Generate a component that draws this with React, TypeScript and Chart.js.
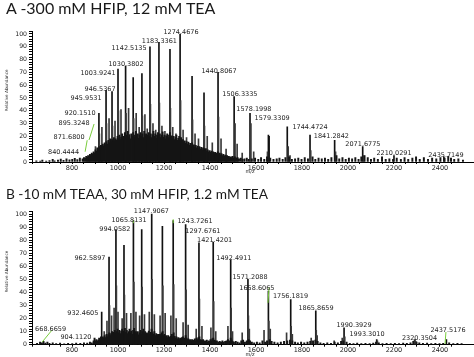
import React, { useEffect, useRef } from 'react';
import { Chart, registerables } from 'chart.js';
Chart.register(...registerables);

// ---------- axis ranges ----------
const xMin = 626;
const xMax = 2548;
const yMax = 102;
const xLabelTicks = [800, 1000, 1200, 1400, 1600, 1800, 2000, 2200, 2400];
const yLabelTicks = [0, 10, 20, 30, 40, 50, 60, 70, 80, 90, 100];

// ---------- panel A: 300 mM HFIP, 12 mM TEA ----------
const titleA = 'A -300 mM HFIP, 12 mM TEA';
const majorA: [number, number][] = [
  [917, 38], [948, 56], [974, 55], [1000, 72.5], [1033, 75], [1066, 66], [1104, 69],
  [1139, 90], [1178, 93.5], [1226, 88], [1270, 100], [1322, 67], [1374, 54], [1435, 70],
  [1505, 51], [1574, 38], [1654, 21], [1657, 20], [1736, 27.5], [1835, 21], [1942, 17],
  [2064, 12], [2200, 5], [2417, 4],
];
const satelliteA: [number, number][] = [
  [902, 12], [919, 22], [930, 27], [950, 30], [961, 34], [976, 28], [987, 32], [1002, 40],
  [1013, 41], [1035, 38], [1046, 42], [1068, 34], [1079, 38], [1092, 27], [1106, 36],
  [1117, 37], [1127, 26], [1141, 45], [1152, 30], [1164, 25], [1180, 46], [1191, 28],
  [1204, 24], [1228, 42], [1238, 27], [1252, 22], [1272, 48], [1283, 25], [1298, 19],
  [1324, 33], [1335, 22], [1350, 18], [1376, 28], [1388, 20], [1410, 15], [1437, 35],
  [1448, 18], [1470, 10], [1509, 30], [1518, 14], [1540, 7], [1578, 30], [1590, 8],
  [1650, 8], [1740, 12], [1748, 5], [1838, 9], [1946, 8], [2068, 5],
];
const noiseA: [number, number][] = [
  [645, 1], [662, 0.8], [671, 1.5], [688, 0.7], [702, 1.2], [716, 2], [724, 1], [739, 1.5],
  [751, 2.2], [763, 1.3], [776, 2.5], [789, 1.6], [801, 2], [812, 2.8], [823, 1.8], [834, 3],
  [846, 2.4], [852, 3.5], [858, 3], [862, 4.5], [866, 3.6], [870, 5], [874, 4.2], [878, 6],
  [882, 5], [886, 7], [890, 6.2], [894, 8], [898, 7], [902, 9.5], [906, 8.4], [910, 11],
  [914, 10], [918, 12], [922, 10.5], [926, 13], [930, 11.5], [934, 14], [938, 12.6], [942, 15],
  [946, 13.5], [950, 16], [954, 14], [958, 17], [962, 15], [966, 18], [970, 16], [974, 17.5],
  [978, 15.5], [982, 19], [986, 16.5], [990, 18], [994, 17], [998, 20], [1002, 18], [1006, 21],
  [1010, 17.5], [1014, 19.5], [1018, 22], [1022, 18.5], [1026, 20], [1030, 23], [1034, 19],
  [1038, 21], [1042, 24], [1046, 19.5], [1050, 21.5], [1054, 18], [1058, 22], [1062, 20],
  [1066, 23], [1070, 19], [1074, 21], [1078, 24], [1082, 20], [1086, 22], [1090, 18.5],
  [1094, 21], [1098, 23], [1102, 20], [1106, 22], [1110, 19], [1114, 24], [1118, 20.5],
  [1122, 22], [1126, 19], [1130, 21], [1134, 23], [1138, 20], [1142, 22], [1146, 19],
  [1150, 21.5], [1154, 24], [1158, 20], [1162, 22], [1166, 18.5], [1170, 21], [1174, 23],
  [1178, 20], [1182, 22], [1186, 19], [1190, 21], [1194, 23.5], [1198, 19.5], [1202, 21],
  [1206, 18], [1210, 20.5], [1214, 22], [1218, 19], [1222, 21], [1226, 23], [1230, 19],
  [1234, 20.5], [1238, 18], [1242, 20], [1246, 17.5], [1250, 19], [1254, 21], [1258, 17],
  [1262, 18.5], [1266, 20], [1270, 17], [1274, 19], [1278, 16], [1282, 17.5], [1286, 15],
  [1290, 16.5], [1294, 14.5], [1298, 16], [1302, 14], [1306, 15.5], [1310, 13], [1314, 14.5],
  [1318, 12.5], [1322, 15], [1326, 12], [1330, 13.5], [1334, 11.5], [1338, 13], [1342, 11],
  [1346, 12.5], [1350, 10.5], [1354, 12], [1358, 10], [1362, 11.5], [1366, 9.5], [1370, 11],
  [1374, 10.5], [1378, 9], [1382, 10.5], [1386, 8.5], [1390, 9.5], [1394, 8], [1398, 9],
  [1402, 7.5], [1406, 8.5], [1410, 7], [1414, 8], [1418, 6.5], [1422, 7.5], [1426, 6],
  [1430, 7], [1434, 8], [1438, 6], [1442, 7], [1446, 5.5], [1450, 6.5], [1454, 5], [1458, 6],
  [1462, 4.5], [1466, 5.5], [1470, 4], [1474, 5], [1478, 4], [1482, 4.5], [1486, 3.5],
  [1490, 4], [1494, 3.5], [1498, 4.5], [1502, 3], [1508, 4], [1514, 3], [1520, 3.5],
  [1526, 2.5], [1534, 3], [1542, 2], [1550, 2.5], [1560, 3], [1568, 2], [1582, 2.5],
  [1596, 3], [1610, 2], [1622, 3.5], [1636, 2], [1648, 4], [1662, 3], [1676, 2], [1690, 2.5],
  [1702, 3], [1716, 2], [1728, 3.5], [1744, 4], [1756, 2], [1770, 2.5], [1784, 3], [1798, 2],
  [1812, 3.5], [1826, 2.5], [1846, 4], [1858, 2], [1872, 3], [1886, 2.5], [1900, 3], [1914, 2],
  [1928, 3.5], [1950, 5], [1962, 2.5], [1976, 3.5], [1990, 2], [2004, 3], [2018, 2.5],
  [2032, 3.5], [2046, 2], [2058, 4], [2072, 5], [2086, 3.5], [2100, 2], [2114, 3], [2130, 2],
  [2148, 4], [2164, 2], [2180, 2.5], [2196, 2], [2212, 3], [2230, 2], [2246, 3.5], [2262, 2],
  [2280, 3], [2296, 4], [2312, 2], [2330, 3.5], [2348, 2], [2366, 3], [2384, 2.5], [2402, 3.5],
  [2420, 3], [2436, 4.5], [2448, 3], [2462, 2], [2480, 2.5], [2500, 1.5],
];
const peakTextA = [
  '1274.4676', '1183.3361', '1142.5135', '1030.3802', '1003.9241', '946.5367', '945.9531',
  '920.1510', '895.3248', '871.6800', '840.4444', '1440.8067', '1506.3335', '1578.1998',
  '1579.3309', '1744.4724', '1841.2842', '2071.6775', '2210.0291', '2435.7149',
];
const peakTextMzA = [
  1274, 1180, 1048, 1035, 913, 922, 861, 835, 809, 787, 763, 1439, 1530, 1591, 1670, 1835,
  1928, 2065, 2200, 2426,
];
const peakTextIntA = [
  101.6, 94.5, 89, 76.6, 69.5, 57, 50, 38.3, 30.5, 19.5, 7.8, 71, 53, 41.4, 34.4, 27.3, 20.3,
  14, 7, 5.5,
];
const leaderA: [number, number, number, number][] = [
  [896, 29.7, 874, 17.2],
  [866, 17, 857, 8],
];

// ---------- panel B: 10 mM TEAA, 30 mM HFIP, 1.2 mM TEA ----------
const titleB = 'B -10 mM TEAA, 30 mM HFIP, 1.2 mM TEA';
const majorB: [number, number][] = [
  [929, 25], [961, 67], [991, 88], [1026, 76], [1067, 95], [1103, 88], [1146.5, 100],
  [1193, 90.5], [1240, 95], [1294, 92], [1352, 78], [1414, 78.5], [1490, 65], [1565, 50],
  [1654, 41], [1751, 34.5], [1860, 26], [1983, 13], [2125, 4], [2291, 4], [2428, 4],
];
const satelliteB: [number, number][] = [
  [940, 10], [952, 18], [963, 30], [972, 22], [983, 28], [993, 45], [1000, 25], [1018, 20],
  [1028, 38], [1037, 24], [1056, 24], [1069, 48], [1078, 25], [1094, 22], [1105, 44],
  [1115, 23], [1136, 25], [1148, 50], [1158, 23], [1183, 22], [1195, 45], [1205, 24],
  [1230, 22], [1242, 46], [1253, 20], [1283, 17], [1296, 42], [1305, 15], [1340, 12],
  [1354, 35], [1365, 14], [1404, 13], [1416, 33], [1425, 10], [1478, 14], [1492, 28],
  [1498, 10], [1540, 9], [1567, 22], [1571, 12], [1635, 11], [1656, 18], [1662, 12],
  [1733, 9], [1753, 14], [1758, 8], [1840, 5], [1862, 11], [1866, 7], [1940, 3], [1975, 5],
  [1986, 6], [2128, 3], [2288, 3], [2295, 2.5],
];
const noiseB: [number, number][] = [
  [648, 1], [661, 2], [669, 1.5], [676, 2.5], [684, 1.2], [693, 2], [702, 1], [716, 1.5],
  [731, 0.8], [748, 1.2], [766, 0.7], [783, 1], [801, 0.8], [818, 1.2], [836, 1], [852, 1.5],
  [866, 1.2], [878, 2], [886, 1.5], [894, 3], [898, 5], [902, 3], [906, 4], [910, 2.5],
  [914, 3.5], [918, 5], [922, 4], [926, 6], [930, 4.5], [934, 6], [938, 5], [942, 7],
  [946, 5.5], [950, 8], [954, 6], [958, 7.5], [962, 9], [966, 7], [970, 8.5], [974, 10],
  [978, 8], [982, 9.5], [986, 11], [990, 8.5], [994, 10], [998, 12], [1002, 9], [1006, 11],
  [1010, 8.5], [1014, 10.5], [1018, 12], [1022, 9], [1026, 10.5], [1030, 12.5], [1034, 9.5],
  [1038, 11], [1042, 8.5], [1046, 10], [1050, 12], [1054, 9], [1058, 10.5], [1062, 8],
  [1066, 11], [1070, 12.5], [1074, 9], [1078, 10], [1082, 8.5], [1086, 10], [1090, 7.5],
  [1094, 9], [1098, 11], [1102, 8], [1106, 10], [1110, 12], [1114, 8.5], [1118, 10],
  [1122, 7.5], [1126, 9], [1130, 8], [1134, 10.5], [1138, 8], [1142, 9.5], [1146, 12],
  [1150, 9], [1154, 8], [1158, 10], [1162, 7], [1166, 8.5], [1170, 7], [1174, 8], [1178, 6.5],
  [1182, 8], [1186, 7], [1190, 9], [1194, 10], [1198, 7], [1202, 8], [1206, 6], [1210, 7],
  [1214, 5.5], [1218, 7], [1222, 6], [1226, 5], [1230, 6.5], [1234, 8], [1238, 6], [1242, 9],
  [1246, 6.5], [1250, 5], [1254, 6], [1258, 4.5], [1262, 5.5], [1266, 4], [1270, 5], [1274, 4],
  [1278, 5.5], [1282, 6], [1286, 4.5], [1290, 5], [1294, 7], [1298, 5], [1302, 4], [1306, 4.5],
  [1310, 3.5], [1314, 4], [1318, 3], [1322, 4], [1326, 3], [1330, 3.5], [1334, 4.5], [1338, 3],
  [1342, 5], [1346, 4], [1350, 5.5], [1354, 6], [1358, 4], [1362, 3.5], [1366, 3], [1370, 4],
  [1374, 2.5], [1378, 3], [1382, 2.5], [1386, 3.5], [1390, 2], [1394, 3], [1398, 2.5],
  [1402, 4], [1406, 3], [1410, 4.5], [1414, 5], [1418, 3.5], [1422, 3], [1426, 2.5], [1430, 3],
  [1436, 2], [1442, 2.5], [1448, 2], [1454, 3], [1460, 2], [1466, 2.5], [1472, 3], [1478, 4],
  [1484, 3], [1490, 5], [1494, 3.5], [1498, 2.5], [1504, 2], [1512, 2.5], [1520, 2],
  [1528, 1.5], [1536, 3], [1544, 3.5], [1552, 2], [1560, 3], [1568, 4], [1574, 3], [1582, 2],
  [1592, 1.5], [1604, 2], [1616, 1.5], [1628, 3], [1640, 2], [1648, 3], [1660, 4], [1668, 2.5],
  [1680, 2], [1694, 1.5], [1708, 2], [1722, 2.5], [1736, 3], [1748, 3.5], [1758, 3], [1770, 2],
  [1782, 1.5], [1796, 2], [1810, 1.5], [1824, 2], [1836, 2.5], [1848, 3], [1858, 3.5],
  [1868, 2.5], [1880, 1.5], [1894, 1], [1910, 1.5], [1926, 1], [1942, 2], [1956, 1.5],
  [1970, 2.5], [1980, 3], [1994, 2], [2008, 1], [2024, 0.8], [2040, 1.2], [2058, 0.8],
  [2076, 1], [2094, 0.8], [2110, 1.2], [2122, 2], [2134, 1.5], [2150, 0.8], [2168, 1],
  [2186, 0.8], [2204, 1], [2222, 0.8], [2240, 1.2], [2256, 1], [2272, 1.5], [2284, 2.5],
  [2298, 2], [2310, 1.5], [2326, 1], [2344, 1.2], [2362, 0.8], [2380, 1], [2398, 0.8],
  [2414, 1], [2440, 1.5], [2458, 0.8], [2476, 1], [2494, 0.8],
];
const peakTextB = [
  '1147.9067', '1065.8131', '994.0582', '962.5897', '932.4605', '904.1120', '668.6659',
  '1243.7261', '1297.6761', '1421.4201', '1492.4911', '1571.2088', '1658.6065', '1756.1819',
  '1865.8659', '1990.3929', '1993.3010', '2320.3504', '2437.5176',
];
const peakTextMzB = [
  1145, 1048, 986, 878, 847, 817, 707, 1335, 1369, 1420, 1504, 1574, 1604, 1750, 1861, 2026,
  2083, 2311, 2435,
];
const peakTextIntB = [
  102, 95, 88, 66.3, 24.3, 5.7, 12, 94.4, 86.8, 80, 66.3, 51.6, 43.3, 36.7, 27.8, 14.8, 7.7,
  5.1, 10.7,
];
const leaderB: [number, number, number, number][] = [
  [713, 11.2, 670, 2],
  [1657, 44, 1652, 32],
  [2426, 9.7, 2422, 0.5],
  [1067, 95.5, 1067, 93],
  [1240, 96, 1240, 93],
];

type Panel = {
  major: [number, number][];
  satellite: [number, number][];
  noise: [number, number][];
  texts: string[];
  textMz: number[];
  textInt: number[];
  leaders: [number, number, number, number][];
};

const FONT = '"DejaVu Sans", sans-serif';

function buildChart(canvas: HTMLCanvasElement, p: Panel, padTop: number, xAxisH: number) {
  const toXY = (arr: [number, number][]) => arr.map(([x, y]) => ({ x, y }));
  const annot = {
    id: 'annot',
    afterDatasetsDraw(chart: any) {
      const { ctx, scales } = chart;
      const xs = scales.x;
      const ys = scales.y;
      ctx.save();
      ctx.strokeStyle = '#79cc3c';
      ctx.lineWidth = 1;
      p.leaders.forEach(([x1, y1, x2, y2]) => {
        ctx.beginPath();
        ctx.moveTo(xs.getPixelForValue(x1), ys.getPixelForValue(y1));
        ctx.lineTo(xs.getPixelForValue(x2), ys.getPixelForValue(y2));
        ctx.stroke();
      });
      ctx.fillStyle = '#222';
      ctx.font = '6.5px ' + FONT;
      ctx.textAlign = 'center';
      ctx.textBaseline = 'middle';
      p.texts.forEach((t, i) => {
        ctx.fillText(t, xs.getPixelForValue(p.textMz[i]), ys.getPixelForValue(p.textInt[i]));
      });
      ctx.font = '5px ' + FONT;
      ctx.fillText('m/z', xs.getPixelForValue(1574), ys.bottom + 10);
      ctx.translate(7, ys.getPixelForValue(56));
      ctx.rotate(-Math.PI / 2);
      ctx.font = '4.2px ' + FONT;
      ctx.fillText('Relative Abundance', 0, 0);
      ctx.restore();
    },
  };
  return new Chart(canvas, {
    type: 'bar',
    data: {
      datasets: [
        { data: toXY(p.noise), backgroundColor: '#151515', barThickness: 1.3, grouped: false, borderWidth: 0 } as any,
        { data: toXY(p.satellite), backgroundColor: '#3a3a3a', barThickness: 1, grouped: false, borderWidth: 0 } as any,
        { data: toXY(p.major), backgroundColor: '#111', barThickness: 1, grouped: false, borderWidth: 0 } as any,
      ],
    },
    options: {
      animation: false,
      responsive: false,
      devicePixelRatio: 1,
      layout: { padding: { top: padTop, left: 0, right: 0, bottom: 0 } },
      plugins: { legend: { display: false }, tooltip: { enabled: false }, title: { display: false } },
      scales: {
        x: {
          type: 'linear',
          min: xMin,
          max: xMax,
          offset: false,
          afterFit: (s: any) => { s.height = xAxisH; },
          grid: { drawOnChartArea: false, drawTicks: true, tickLength: 2, color: '#000', offset: false },
          border: { color: '#000', width: 1 },
          ticks: {
            stepSize: 50,
            autoSkip: false,
            maxRotation: 0,
            minRotation: 0,
            padding: 0,
            color: '#222',
            font: { family: FONT, size: 6.5 },
            callback: (v: any) => (xLabelTicks.includes(Number(v)) ? String(v) : ''),
          },
        },
        y: {
          min: 0,
          max: yMax,
          afterFit: (s: any) => { s.width = 32; },
          grid: { drawOnChartArea: false, drawTicks: true, tickLength: 3, color: '#000' },
          border: { color: '#000', width: 1 },
          ticks: {
            stepSize: 2,
            autoSkip: false,
            padding: 2,
            color: '#222',
            font: { family: FONT, size: 6.2 },
            callback: (v: any) => (yLabelTicks.includes(Number(v)) ? String(v) : ''),
          },
        },
      },
    } as any,
    plugins: [annot],
  });
}

const panelA: Panel = {
  major: majorA, satellite: satelliteA, noise: noiseA,
  texts: peakTextA, textMz: peakTextMzA, textInt: peakTextIntA, leaders: leaderA,
};
const panelB: Panel = {
  major: majorB, satellite: satelliteB, noise: noiseB,
  texts: peakTextB, textMz: peakTextMzB, textInt: peakTextIntB, leaders: leaderB,
};

export default function App() {
  const refA = useRef<HTMLCanvasElement>(null);
  const refB = useRef<HTMLCanvasElement>(null);
  useEffect(() => {
    const a = buildChart(refA.current!, panelA, 31.4, 16);
    const b = buildChart(refB.current!, panelB, 33.4, 12.3);
    return () => { a.destroy(); b.destroy(); };
  }, []);
  const titleStyle: React.CSSProperties = {
    position: 'absolute', left: 6, fontFamily: 'Lato, sans-serif',
    color: '#1a1a1a', whiteSpace: 'nowrap', zIndex: 2,
  };
  return (
    <div style={{ position: 'fixed', left: 0, top: 0, width: 474, height: 357, background: '#fff', overflow: 'hidden' }}>
      <canvas ref={refA} width={474} height={178} style={{ position: 'absolute', left: 0, top: 0, width: 474, height: 178 }} />
      <canvas ref={refB} width={474} height={179} style={{ position: 'absolute', left: 0, top: 178, width: 474, height: 179 }} />
      <div style={{ ...titleStyle, top: 0, fontSize: 16, lineHeight: '16px' }}>{titleA}</div>
      <div style={{ ...titleStyle, top: 187, fontSize: 13.7, lineHeight: '14px' }}>{titleB}</div>
    </div>
  );
}
